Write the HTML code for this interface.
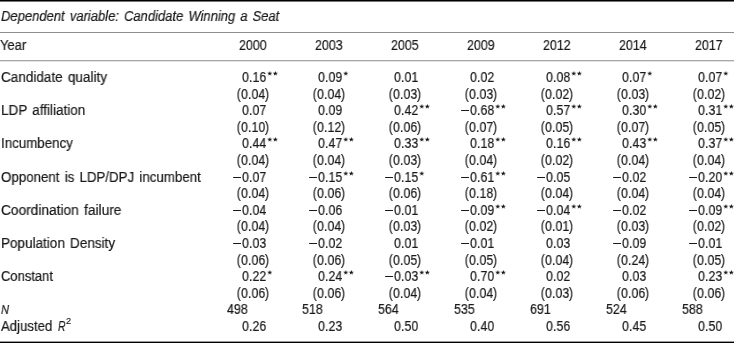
<!DOCTYPE html>
<html><head><meta charset="utf-8"><style>
html,body{margin:0;padding:0;background:#fff;}
body{width:734px;height:343px;position:relative;overflow:hidden;font-family:"Liberation Sans",sans-serif;color:#1a1a1a;}
.t,.n{position:absolute;white-space:nowrap;line-height:0;height:0;transform-origin:0 0;will-change:transform;-webkit-text-stroke:0.2px #1a1a1a;}
.t{font-size:14.0px;}
.i{font-style:italic;}
.lb{word-spacing:1.5px;}
.hd{word-spacing:1.5px;}
.n{font-size:14.0px;transform:scaleX(0.89);}
.pre{position:absolute;right:100%;}
.cp{margin-left:-0.6px;}
.mi{position:absolute;right:calc(100% + 1.3px);width:8.5px;height:1.1px;background:#1a1a1a;top:0.2px;}
.sr{display:inline-block;width:5.8px;height:4.8px;margin-left:1.0px;background:#1a1a1a;position:relative;top:-6.2px;clip-path:polygon(50% 0%,63% 36%,100% 37%,70% 60%,81% 98%,50% 75%,19% 98%,30% 60%,0% 37%,37% 36%);}
.sr+.sr{margin-left:0.5px;}
.sup{font-size:8.2px;-webkit-text-stroke:0.15px #1a1a1a;}
.rule{position:absolute;left:0;width:734px;}
</style></head><body>
<div class="rule" style="top:0;height:1px;background:#000"></div>
<div class="rule" style="top:1px;height:1px;background:#777"></div>
<div class="rule" style="top:32px;height:1px;background:#8e8e8e"></div>
<div class="rule" style="top:60px;height:1px;background:#a6a6a6"></div>
<div class="rule" style="top:61px;height:1px;background:#e2e2e2"></div>
<div class="rule" style="top:341px;height:1px;background:#9a9a9a"></div>
<div class="rule" style="top:342px;height:1px;background:#000"></div>
<div class="t i hd" style="left:1.00px;top:16.15px;transform:scaleX(0.9300)">Dependent variable: Candidate Winning a Seat</div><div class="t" style="left:0.00px;top:44.95px;transform:scaleX(0.9270)">Year</div><div class="n" style="left:239.00px;top:44.95px;transform:scaleX(0.8900)">2000</div><div class="n" style="left:314.80px;top:44.95px;transform:scaleX(0.8900)">2003</div><div class="n" style="left:390.80px;top:44.95px;transform:scaleX(0.8900)">2005</div><div class="n" style="left:466.80px;top:44.95px;transform:scaleX(0.8900)">2009</div><div class="n" style="left:542.90px;top:44.95px;transform:scaleX(0.8900)">2012</div><div class="n" style="left:619.00px;top:44.95px;transform:scaleX(0.8900)">2014</div><div class="n" style="left:695.10px;top:44.95px;transform:scaleX(0.8900)">2017</div><div class="t lb" style="left:1.00px;top:77.05px;transform:scaleX(0.9664)">Candidate quality</div><div class="n" style="left:241.80px;top:77.05px">0.16<span class="sr"></span><span class="sr"></span></div><div class="n" style="left:241.00px;top:93.65px"><span class="pre">(</span>0.04<span class="cp">)</span></div><div class="n" style="left:317.75px;top:77.05px">0.09<span class="sr"></span></div><div class="n" style="left:316.95px;top:93.65px"><span class="pre">(</span>0.04<span class="cp">)</span></div><div class="n" style="left:393.70px;top:77.05px">0.01</div><div class="n" style="left:392.90px;top:93.65px"><span class="pre">(</span>0.03<span class="cp">)</span></div><div class="n" style="left:469.65px;top:77.05px">0.02</div><div class="n" style="left:468.85px;top:93.65px"><span class="pre">(</span>0.03<span class="cp">)</span></div><div class="n" style="left:545.60px;top:77.05px">0.08<span class="sr"></span><span class="sr"></span></div><div class="n" style="left:544.80px;top:93.65px"><span class="pre">(</span>0.02<span class="cp">)</span></div><div class="n" style="left:621.55px;top:77.05px">0.07<span class="sr"></span></div><div class="n" style="left:620.75px;top:93.65px"><span class="pre">(</span>0.03<span class="cp">)</span></div><div class="n" style="left:697.50px;top:77.05px">0.07<span class="sr"></span></div><div class="n" style="left:696.70px;top:93.65px"><span class="pre">(</span>0.02<span class="cp">)</span></div><div class="t lb" style="left:1.00px;top:110.25px;transform:scaleX(0.9653)">LDP affiliation</div><div class="n" style="left:241.80px;top:110.25px">0.07</div><div class="n" style="left:241.00px;top:126.85px"><span class="pre">(</span>0.10<span class="cp">)</span></div><div class="n" style="left:317.75px;top:110.25px">0.09</div><div class="n" style="left:316.95px;top:126.85px"><span class="pre">(</span>0.12<span class="cp">)</span></div><div class="n" style="left:393.70px;top:110.25px">0.42<span class="sr"></span><span class="sr"></span></div><div class="n" style="left:392.90px;top:126.85px"><span class="pre">(</span>0.06<span class="cp">)</span></div><div class="n" style="left:469.65px;top:110.25px"><span class="mi"></span>0.68<span class="sr"></span><span class="sr"></span></div><div class="n" style="left:468.85px;top:126.85px"><span class="pre">(</span>0.07<span class="cp">)</span></div><div class="n" style="left:545.60px;top:110.25px">0.57<span class="sr"></span><span class="sr"></span></div><div class="n" style="left:544.80px;top:126.85px"><span class="pre">(</span>0.05<span class="cp">)</span></div><div class="n" style="left:621.55px;top:110.25px">0.30<span class="sr"></span><span class="sr"></span></div><div class="n" style="left:620.75px;top:126.85px"><span class="pre">(</span>0.07<span class="cp">)</span></div><div class="n" style="left:697.50px;top:110.25px">0.31<span class="sr"></span><span class="sr"></span></div><div class="n" style="left:696.70px;top:126.85px"><span class="pre">(</span>0.05<span class="cp">)</span></div><div class="t lb" style="left:1.00px;top:143.45px;transform:scaleX(0.9514)">Incumbency</div><div class="n" style="left:241.80px;top:143.45px">0.44<span class="sr"></span><span class="sr"></span></div><div class="n" style="left:241.00px;top:160.05px"><span class="pre">(</span>0.04<span class="cp">)</span></div><div class="n" style="left:317.75px;top:143.45px">0.47<span class="sr"></span><span class="sr"></span></div><div class="n" style="left:316.95px;top:160.05px"><span class="pre">(</span>0.04<span class="cp">)</span></div><div class="n" style="left:393.70px;top:143.45px">0.33<span class="sr"></span><span class="sr"></span></div><div class="n" style="left:392.90px;top:160.05px"><span class="pre">(</span>0.03<span class="cp">)</span></div><div class="n" style="left:469.65px;top:143.45px">0.18<span class="sr"></span><span class="sr"></span></div><div class="n" style="left:468.85px;top:160.05px"><span class="pre">(</span>0.04<span class="cp">)</span></div><div class="n" style="left:545.60px;top:143.45px">0.16<span class="sr"></span><span class="sr"></span></div><div class="n" style="left:544.80px;top:160.05px"><span class="pre">(</span>0.02<span class="cp">)</span></div><div class="n" style="left:621.55px;top:143.45px">0.43<span class="sr"></span><span class="sr"></span></div><div class="n" style="left:620.75px;top:160.05px"><span class="pre">(</span>0.04<span class="cp">)</span></div><div class="n" style="left:697.50px;top:143.45px">0.37<span class="sr"></span><span class="sr"></span></div><div class="n" style="left:696.70px;top:160.05px"><span class="pre">(</span>0.04<span class="cp">)</span></div><div class="t lb" style="left:1.00px;top:176.65px;transform:scaleX(0.9518)">Opponent is LDP/DPJ incumbent</div><div class="n" style="left:241.80px;top:176.65px"><span class="mi"></span>0.07</div><div class="n" style="left:241.00px;top:193.25px"><span class="pre">(</span>0.04<span class="cp">)</span></div><div class="n" style="left:317.75px;top:176.65px"><span class="mi"></span>0.15<span class="sr"></span><span class="sr"></span></div><div class="n" style="left:316.95px;top:193.25px"><span class="pre">(</span>0.06<span class="cp">)</span></div><div class="n" style="left:393.70px;top:176.65px"><span class="mi"></span>0.15<span class="sr"></span></div><div class="n" style="left:392.90px;top:193.25px"><span class="pre">(</span>0.06<span class="cp">)</span></div><div class="n" style="left:469.65px;top:176.65px"><span class="mi"></span>0.61<span class="sr"></span><span class="sr"></span></div><div class="n" style="left:468.85px;top:193.25px"><span class="pre">(</span>0.18<span class="cp">)</span></div><div class="n" style="left:545.60px;top:176.65px"><span class="mi"></span>0.05</div><div class="n" style="left:544.80px;top:193.25px"><span class="pre">(</span>0.04<span class="cp">)</span></div><div class="n" style="left:621.55px;top:176.65px"><span class="mi"></span>0.02</div><div class="n" style="left:620.75px;top:193.25px"><span class="pre">(</span>0.04<span class="cp">)</span></div><div class="n" style="left:697.50px;top:176.65px"><span class="mi"></span>0.20<span class="sr"></span><span class="sr"></span></div><div class="n" style="left:696.70px;top:193.25px"><span class="pre">(</span>0.04<span class="cp">)</span></div><div class="t lb" style="left:1.00px;top:209.85px;transform:scaleX(0.9799)">Coordination failure</div><div class="n" style="left:241.80px;top:209.85px"><span class="mi"></span>0.04</div><div class="n" style="left:241.00px;top:226.45px"><span class="pre">(</span>0.04<span class="cp">)</span></div><div class="n" style="left:317.75px;top:209.85px"><span class="mi"></span>0.06</div><div class="n" style="left:316.95px;top:226.45px"><span class="pre">(</span>0.04<span class="cp">)</span></div><div class="n" style="left:393.70px;top:209.85px"><span class="mi"></span>0.01</div><div class="n" style="left:392.90px;top:226.45px"><span class="pre">(</span>0.03<span class="cp">)</span></div><div class="n" style="left:469.65px;top:209.85px"><span class="mi"></span>0.09<span class="sr"></span><span class="sr"></span></div><div class="n" style="left:468.85px;top:226.45px"><span class="pre">(</span>0.02<span class="cp">)</span></div><div class="n" style="left:545.60px;top:209.85px"><span class="mi"></span>0.04<span class="sr"></span><span class="sr"></span></div><div class="n" style="left:544.80px;top:226.45px"><span class="pre">(</span>0.01<span class="cp">)</span></div><div class="n" style="left:621.55px;top:209.85px"><span class="mi"></span>0.02</div><div class="n" style="left:620.75px;top:226.45px"><span class="pre">(</span>0.03<span class="cp">)</span></div><div class="n" style="left:697.50px;top:209.85px"><span class="mi"></span>0.09<span class="sr"></span><span class="sr"></span></div><div class="n" style="left:696.70px;top:226.45px"><span class="pre">(</span>0.02<span class="cp">)</span></div><div class="t lb" style="left:1.00px;top:243.05px;transform:scaleX(0.9649)">Population Density</div><div class="n" style="left:241.80px;top:243.05px"><span class="mi"></span>0.03</div><div class="n" style="left:241.00px;top:259.65px"><span class="pre">(</span>0.06<span class="cp">)</span></div><div class="n" style="left:317.75px;top:243.05px"><span class="mi"></span>0.02</div><div class="n" style="left:316.95px;top:259.65px"><span class="pre">(</span>0.06<span class="cp">)</span></div><div class="n" style="left:393.70px;top:243.05px">0.01</div><div class="n" style="left:392.90px;top:259.65px"><span class="pre">(</span>0.05<span class="cp">)</span></div><div class="n" style="left:469.65px;top:243.05px"><span class="mi"></span>0.01</div><div class="n" style="left:468.85px;top:259.65px"><span class="pre">(</span>0.05<span class="cp">)</span></div><div class="n" style="left:545.60px;top:243.05px">0.03</div><div class="n" style="left:544.80px;top:259.65px"><span class="pre">(</span>0.04<span class="cp">)</span></div><div class="n" style="left:621.55px;top:243.05px"><span class="mi"></span>0.09</div><div class="n" style="left:620.75px;top:259.65px"><span class="pre">(</span>0.24<span class="cp">)</span></div><div class="n" style="left:697.50px;top:243.05px"><span class="mi"></span>0.01</div><div class="n" style="left:696.70px;top:259.65px"><span class="pre">(</span>0.05<span class="cp">)</span></div><div class="t lb" style="left:1.00px;top:276.25px;transform:scaleX(0.9266)">Constant</div><div class="n" style="left:241.80px;top:276.25px">0.22<span class="sr"></span></div><div class="n" style="left:241.00px;top:292.85px"><span class="pre">(</span>0.06<span class="cp">)</span></div><div class="n" style="left:317.75px;top:276.25px">0.24<span class="sr"></span><span class="sr"></span></div><div class="n" style="left:316.95px;top:292.85px"><span class="pre">(</span>0.06<span class="cp">)</span></div><div class="n" style="left:393.70px;top:276.25px"><span class="mi"></span>0.03<span class="sr"></span><span class="sr"></span></div><div class="n" style="left:392.90px;top:292.85px"><span class="pre">(</span>0.04<span class="cp">)</span></div><div class="n" style="left:469.65px;top:276.25px">0.70<span class="sr"></span><span class="sr"></span></div><div class="n" style="left:468.85px;top:292.85px"><span class="pre">(</span>0.04<span class="cp">)</span></div><div class="n" style="left:545.60px;top:276.25px">0.02</div><div class="n" style="left:544.80px;top:292.85px"><span class="pre">(</span>0.03<span class="cp">)</span></div><div class="n" style="left:621.55px;top:276.25px">0.03</div><div class="n" style="left:620.75px;top:292.85px"><span class="pre">(</span>0.06<span class="cp">)</span></div><div class="n" style="left:697.50px;top:276.25px">0.23<span class="sr"></span><span class="sr"></span></div><div class="n" style="left:696.70px;top:292.85px"><span class="pre">(</span>0.06<span class="cp">)</span></div><div class="t" style="left:1.2px;top:309.45px;transform-origin:0 4.85px;transform:scale(0.8,0.9)"><i>N</i></div><div class="n" style="left:226.50px;top:309.45px;transform:scaleX(0.8900)">498</div><div class="n" style="left:302.45px;top:309.45px;transform:scaleX(0.8900)">518</div><div class="n" style="left:378.40px;top:309.45px;transform:scaleX(0.8900)">564</div><div class="n" style="left:454.35px;top:309.45px;transform:scaleX(0.8900)">535</div><div class="n" style="left:530.30px;top:309.45px;transform:scaleX(0.8900)">691</div><div class="n" style="left:606.25px;top:309.45px;transform:scaleX(0.8900)">524</div><div class="n" style="left:682.20px;top:309.45px;transform:scaleX(0.8900)">588</div><div class="t" style="left:0.50px;top:326.05px;transform:scaleX(0.9400)">Adjusted</div><div class="t" style="left:57.90px;top:326.05px;transform:scaleX(0.7400)"><i>R</i></div><div class="t sup" style="left:65.60px;top:321.66px;transform:scaleX(1.1200)">2</div><div class="n" style="left:241.80px;top:326.05px">0.26</div><div class="n" style="left:317.75px;top:326.05px">0.23</div><div class="n" style="left:393.70px;top:326.05px">0.50</div><div class="n" style="left:469.65px;top:326.05px">0.40</div><div class="n" style="left:545.60px;top:326.05px">0.56</div><div class="n" style="left:621.55px;top:326.05px">0.45</div><div class="n" style="left:697.50px;top:326.05px">0.50</div>
</body></html>
